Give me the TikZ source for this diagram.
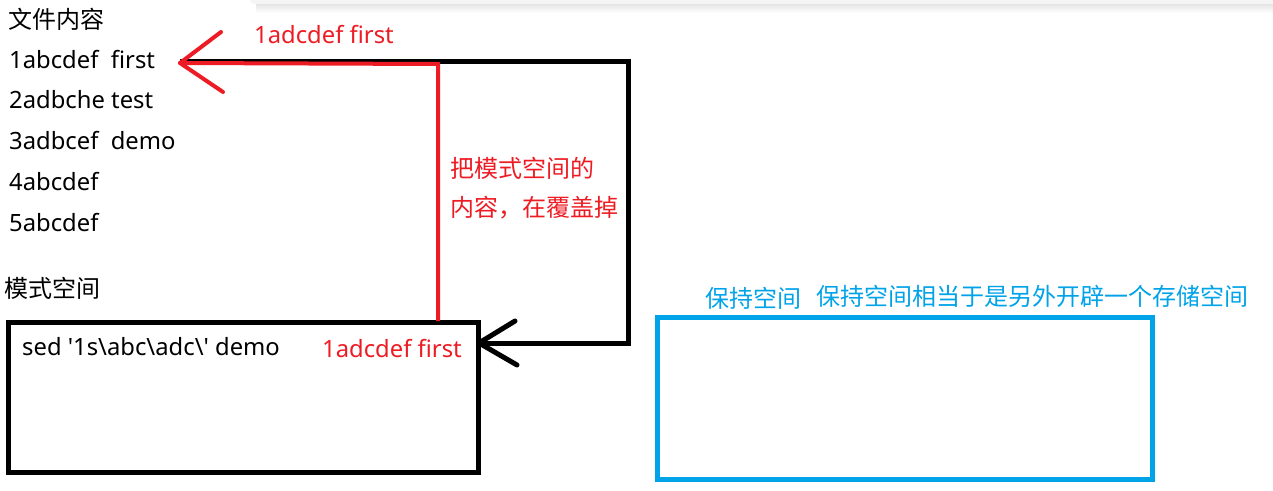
\documentclass[tikz,border=0pt]{standalone}
\usepackage{fontspec}
\setmainfont{Noto Sans CJK SC}
\newfontfamily\lat{Noto Sans}
\begin{document}
\begin{tikzpicture}[x=1pt,y=-1pt,
  txt/.style={anchor=west,inner sep=0pt,font=\fontsize{24}{26}\selectfont},
  ltxt/.style={anchor=west,inner sep=0pt,font=\lat\fontsize{23.8}{26}\selectfont},
  redtxt/.style={txt,text=myred},
  redltxt/.style={ltxt,text=myred},
  bluetxt/.style={txt,text=myblue},
  blk/.style={line width=5pt,black},
  redln/.style={line width=4pt,myred},
  bluebox/.style={line width=5pt,myblue}]
\definecolor{myred}{RGB}{237,28,36}
\definecolor{myblue}{RGB}{0,162,232}
\useasboundingbox (0,0) rectangle (1273,490);
% faint top bar
\fill[black!4,rounded corners=4pt] (250,-6) rectangle (1280,4);
\shade[top color=black!10,bottom color=white] (256,4) rectangle (1273,13);
% file contents
\node[txt] (title) at (8,19) {文件内容};
\node[ltxt] (l1) at (9,60) {1abcdef\ \ first};
\node[ltxt] (l2) at (9,100) {2adbche test};
\node[ltxt] (l3) at (9,141) {3adbcef\ \ demo};
\node[ltxt] (l4) at (9,182) {4abcdef};
\node[ltxt] (l5) at (9,223) {5abcdef};
\node[txt] (ptitle) at (4,288) {模式空间};
% pattern space box
\node[draw,blk,minimum width=470pt,minimum height=150pt,inner sep=0pt] (pbox) at (243,397) {};
\node[ltxt] (sed) at (22,347) {sed '1s\textbackslash abc\textbackslash adc\textbackslash' demo};
\node[redltxt] (pval) at (322,349) {1adcdef first};
% hold space
\node[draw,bluebox,minimum width=495pt,minimum height=162pt,inner sep=0pt] (hbox) at (905,398) {};
\node[bluetxt] (htitle) at (705,298) {保持空间};
\node[bluetxt] (hnote) at (816,296) {保持空间相当于是另外开辟一个存储空间};
% red labels
\node[redltxt] (rtop) at (254,35) {1adcdef first};
\node[redtxt] (rnote1) at (450,168) {把模式空间的};
\node[redtxt] (rnote2) at (450,208) {内容，在覆盖掉};
% coordinates
\coordinate (ltip) at (180,63);
\coordinate (bTL) at (180,61);
\coordinate (bTR) at (628,61);
\coordinate (bBR) at (628,343);
\coordinate (btip) at (479,343);
\coordinate (rc) at (438,64);
\coordinate (rb) at (438,321);
% black loop
\draw[blk,line join=miter] (bTL) -- (bTR) -- (bBR) -- (btip);
\draw[blk,line cap=round] (btip) -- ++(36,-22);
\draw[blk,line cap=round] (btip) -- ++(38,22);
% red path
\draw[redln] (rb) -- (rc) -- (ltip);
\draw[redln,line cap=round] (ltip) -- ++(41,-31);
\draw[redln,line cap=round] (ltip) -- ++(43,29);
\end{tikzpicture}
\end{document}
